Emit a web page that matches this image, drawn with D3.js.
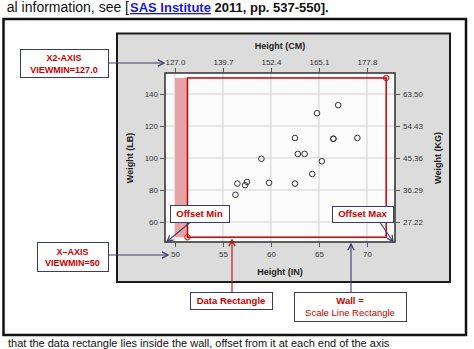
<!DOCTYPE html>
<html>
<head>
<meta charset="utf-8">
<script src="https://cdn.jsdelivr.net/npm/d3@7"></script>
<style>
  html, body { margin: 0; padding: 0; background: #fff; }
  svg { display: block; font-family: "Liberation Sans", Arial, sans-serif; }
</style>
</head>
<body>
<svg id="chart" width="474" height="349"></svg>
<script>
// Class roster: height (in) and weight (lb)
const names   = ["Alfred","Alice","Barbara","Carol","Henry","James","Jane","Janet","Jeffrey","John",
                 "Joyce","Judy","Louise","Mary","Philip","Robert","Ronald","Thomas","William"];
const heights = [69.0, 56.5, 65.3, 62.8, 63.5, 57.3, 59.8, 62.5, 62.5, 59.0,
                 51.3, 64.3, 56.3, 66.5, 72.0, 64.8, 67.0, 57.5, 66.5];
const weights = [112.5, 84.0, 98.0, 102.5, 102.5, 83.0, 84.5, 112.5, 84.0, 99.5,
                 50.5, 90.0, 77.0, 112.0, 150.0, 128.0, 133.0, 85.0, 112.0];

// Axis ticks (primary in IN / LB, secondary in CM / KG)
const xTicks   = [50, 55, 60, 65, 70];
const x2Labels = ["127.0", "139.7", "152.4", "165.1", "177.8"];
const yTicks   = [60, 80, 100, 120, 140];
const y2Labels = ["27.22", "36.29", "45.36", "54.43", "63.50"];

// Axis view range (viewmin + offsets)
const xView = [48.96, 72.92];
const yView = [47.5, 153.1];

const svg = d3.select("#chart");
const wall = { left: 165, top: 73, right: 395, bottom: 242 };

const x = d3.scaleLinear().domain(xView).range([wall.left, wall.right]);
const y = d3.scaleLinear().domain(yView).range([wall.bottom, wall.top]);

const navy = "#3b3b6b";
const red = "#c80000";

// Arrowhead markers
const defs = svg.append("defs");
function arrowMarker(id, color) {
  defs.append("marker")
    .attr("id", id).attr("viewBox", "0 0 10 10")
    .attr("refX", 9).attr("refY", 5)
    .attr("markerWidth", 7).attr("markerHeight", 7)
    .attr("orient", "auto-start-reverse")
    .append("path").attr("d", "M1,1 L9,5 L1,9")
    .attr("fill", "none").attr("stroke", color).attr("stroke-width", 1.6);
}
arrowMarker("arrNavy", navy);
arrowMarker("arrRed", red);

// Running text above and below the figure
svg.append("text").attr("x", 129).attr("y", 12).attr("font-size", 14)
  .attr("text-anchor", "end").attr("fill", "#111").text("al information, see [");
const ref = svg.append("text").attr("x", 130).attr("y", 12).attr("font-size", 13).attr("font-weight", "bold");
ref.append("tspan").attr("fill", "#1a1acc").attr("text-decoration", "underline").text("SAS Institute");
ref.append("tspan").attr("fill", "#111").text(" 2011, pp. 537-550].");

svg.append("text").attr("x", 8).attr("y", 346.5).attr("font-size", 11).attr("fill", "#111")
  .text("that the data rectangle lies inside the wall, offset from it at each end of the axis");

// Figure frame
svg.append("rect").attr("x", 3.5).attr("y", 19).attr("width", 462.5).attr("height", 316)
  .attr("fill", "#fff").attr("stroke", "#111").attr("stroke-width", 2.5);

// Graph panel
svg.append("rect").attr("x", 117).attr("y", 33.5).attr("width", 333).attr("height", 248.5)
  .attr("fill", "#dcdcdc").attr("stroke", "#1a1a1a").attr("stroke-width", 2);

// Wall fill
svg.append("rect").attr("x", wall.left).attr("y", wall.top)
  .attr("width", wall.right - wall.left).attr("height", wall.bottom - wall.top)
  .attr("fill", "#fbfbfb");

// Grid lines
const grid = svg.append("g").attr("stroke", "#d2d2d2").attr("stroke-width", 1);
grid.selectAll(".gx").data(xTicks).join("line")
  .attr("x1", d => x(d)).attr("x2", d => x(d)).attr("y1", wall.top).attr("y2", wall.bottom);
grid.selectAll(".gy").data(yTicks).join("line")
  .attr("y1", d => y(d)).attr("y2", d => y(d)).attr("x1", wall.left).attr("x2", wall.right);

// Offset-min band between the view minimum and the smallest height
const hMin = d3.min(heights), hMax = d3.max(heights);
const wMin = d3.min(weights), wMax = d3.max(weights);
svg.append("rect")
  .attr("x", x(50)).attr("width", x(hMin) - x(50))
  .attr("y", y(wMax)).attr("height", y(wMin) - y(wMax))
  .attr("fill", "#e8a4a4");

// Scatter markers
const pts = heights.map((h, i) => ({ name: names[i], h, w: weights[i] }));
svg.append("g").selectAll("circle").data(pts).join("circle")
  .attr("cx", d => x(d.h)).attr("cy", d => y(d.w)).attr("r", 2.8)
  .attr("fill", d => (d.h === hMin || d.h === hMax) ? "#f0b8b8" : "none")
  .attr("stroke", d => (d.h === hMin || d.h === hMax) ? "#b03030" : "#333")
  .attr("stroke-width", 1);

// Data rectangle (extent of the data)
svg.append("rect")
  .attr("x", x(hMin)).attr("y", y(wMax))
  .attr("width", x(hMax) - x(hMin)).attr("height", y(wMin) - y(wMax))
  .attr("fill", "none").attr("stroke", red).attr("stroke-width", 1.5);

// Wall border
svg.append("rect").attr("x", wall.left).attr("y", wall.top)
  .attr("width", wall.right - wall.left).attr("height", wall.bottom - wall.top)
  .attr("fill", "none").attr("stroke", "#3a3a3a").attr("stroke-width", 1.6);

// Axes
function styleAxis(g) {
  g.select(".domain").remove();
  g.selectAll(".tick line").attr("stroke", "#555");
  g.selectAll(".tick text").attr("fill", "#333").attr("font-size", 8)
    .attr("font-family", "'Liberation Sans', Arial, sans-serif");
}
svg.append("g").attr("transform", `translate(0,${wall.bottom})`)
  .call(d3.axisBottom(x).tickValues(xTicks).tickSize(5).tickPadding(4)).call(styleAxis);
svg.append("g").attr("transform", `translate(0,${wall.top})`)
  .call(d3.axisTop(x).tickValues(xTicks).tickSize(5).tickPadding(3)
    .tickFormat((d, i) => x2Labels[i])).call(styleAxis);
svg.append("g").attr("transform", `translate(${wall.left},0)`)
  .call(d3.axisLeft(y).tickValues(yTicks).tickSize(5).tickPadding(2)).call(styleAxis);
svg.append("g").attr("transform", `translate(${wall.right},0)`)
  .call(d3.axisRight(y).tickValues(yTicks).tickSize(5).tickPadding(3)
    .tickFormat((d, i) => y2Labels[i])).call(styleAxis);

// Axis titles
const titleStyle = t => t.attr("font-size", 9).attr("font-weight", "bold").attr("fill", "#222")
  .attr("text-anchor", "middle");
svg.append("text").attr("x", 280).attr("y", 274.5).text("Height (IN)").call(titleStyle);
svg.append("text").attr("x", 280).attr("y", 49).text("Height (CM)").call(titleStyle);
svg.append("text").attr("transform", "translate(133,158) rotate(-90)").text("Weight (LB)").call(titleStyle);
svg.append("text").attr("transform", "translate(441,158) rotate(-90)").text("Weight (KG)").call(titleStyle);

// Callout boxes
function callout(x0, y0, w, h, lines) {
  svg.append("rect").attr("x", x0 + 0.5).attr("y", y0 + 0.5).attr("width", w).attr("height", h)
    .attr("fill", "#fff").attr("stroke", navy).attr("stroke-width", 1);
  lines.forEach(l => {
    svg.append("text").attr("x", x0 + w / 2).attr("y", l.y)
      .attr("text-anchor", "middle").attr("fill", red)
      .attr("font-size", l.size || 9).attr("font-weight", l.bold === false ? "normal" : "bold")
      .text(l.text);
  });
}
function arrow(x1, y1, x2, y2, color, id) {
  svg.append("line").attr("x1", x1).attr("y1", y1).attr("x2", x2).attr("y2", y2)
    .attr("stroke", color).attr("stroke-width", 1.1).attr("marker-end", `url(#${id})`);
}

callout(20, 49, 88, 28, [{ text: "X2-AXIS", y: 60.5 }, { text: "VIEWMIN=127.0", y: 72.5 }]);
arrow(108.5, 63, 164, 63, navy, "arrNavy");

callout(37, 242, 71, 29, [{ text: "X\u2013AXIS", y: 254.5 }, { text: "VIEWMIN=50", y: 265.5 }]);
arrow(108.5, 255, 168, 255, navy, "arrNavy");

arrow(190, 222.5, 167, 241.5, navy, "arrNavy");
callout(170, 205, 59, 17, [{ text: "Offset Min", y: 216.5, size: 9.5 }]);

arrow(380, 222.5, 393, 241.5, navy, "arrNavy");
callout(332, 206, 61, 16, [{ text: "Offset Max", y: 217, size: 9.5 }]);

arrow(232, 292, 232, 240, red, "arrRed");
callout(190, 292, 82, 17, [{ text: "Data Rectangle", y: 304, size: 9.5 }]);

arrow(351, 292, 351, 244, navy, "arrNavy");
callout(294, 292, 112, 29, [{ text: "Wall =", y: 303.5, size: 9.5 },
                            { text: "Scale Line Rectangle", y: 315.5, size: 9.5, bold: false }]);
</script>
</body>
</html>
